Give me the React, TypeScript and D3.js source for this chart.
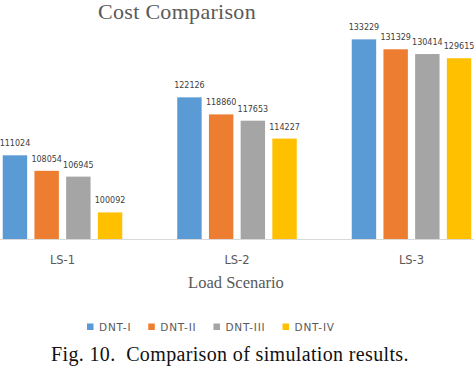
import { useEffect, useRef } from "react";
import * as d3 from "d3";

const scenarios = ["LS-1", "LS-2", "LS-3"];
const series = ["DNT-I", "DNT-II", "DNT-III", "DNT-IV"];
const colors = ["#5B9BD5", "#ED7D31", "#A5A5A5", "#FFC000"];
// cost per scenario, one array per DNT series
const dnt1 = [111024, 122126, 133229];
const dnt2 = [108054, 118860, 131329];
const dnt3 = [106945, 117653, 130414];
const dnt4 = [100092, 114227, 129615];
const values = [dnt1, dnt2, dnt3, dnt4];

export default function App() {
  const svgRef = useRef<SVGSVGElement | null>(null);

  useEffect(() => {
    const W = 474, H = 366;
    const svg = d3.select(svgRef.current).attr("width", W).attr("height", H);
    svg.selectAll("*").remove();

    const baseline = 239;
    const x0 = d3.scaleBand().domain(scenarios).range([-24.75, 498.75]).padding(0);
    const step = 31.7;
    const x1 = d3.scaleBand().domain(series).range([-2 * step, 2 * step]).paddingInner(0.23).paddingOuter(0.115);
    const y = d3.scaleLinear().domain([95000, 140000]).range([baseline, 4]);

    // title
    svg.append("text")
      .attr("x", 177).attr("y", 19)
      .attr("text-anchor", "middle")
      .style("font-family", "Liberation Serif, Times New Roman, serif")
      .style("font-size", "22px")
      .style("letter-spacing", "0.3px")
      .attr("fill", "#595959")
      .text("Cost Comparison");

    // axis line
    svg.append("line")
      .attr("x1", 0).attr("x2", W)
      .attr("y1", baseline + 0.5).attr("y2", baseline + 0.5)
      .attr("stroke", "#D9D9D9").attr("stroke-width", 1);

    const rows = scenarios.flatMap((s, i) => series.map((k, j) => ({ s, k, j, v: values[j][i] })));

    const g = svg.append("g");
    g.selectAll("rect").data(rows).join("rect")
      .attr("x", d => x0(d.s)! + x0.bandwidth() / 2 + x1(d.k)!)
      .attr("width", x1.bandwidth())
      .attr("y", d => y(d.v))
      .attr("height", d => baseline - y(d.v))
      .attr("fill", d => colors[d.j]);

    g.selectAll("text.val").data(rows).join("text")
      .attr("class", "val")
      .attr("x", d => x0(d.s)! + x0.bandwidth() / 2 + x1(d.k)! + x1.bandwidth() / 2)
      .attr("y", d => y(d.v) - 9)
      .attr("text-anchor", "middle")
      .style("font-family", "DejaVu Sans, sans-serif")
      .style("font-size", "8px")
      .attr("fill", "#404040")
      .text(d => d.v);

    // category labels
    svg.selectAll("text.cat").data(scenarios).join("text")
      .attr("class", "cat")
      .attr("x", d => x0(d)! + x0.bandwidth() / 2)
      .attr("y", 263.5)
      .attr("text-anchor", "middle")
      .style("font-family", "DejaVu Sans, sans-serif")
      .style("font-size", "11.5px")
      .attr("fill", "#595959")
      .text(d => d);

    svg.append("text")
      .attr("x", 236).attr("y", 288)
      .attr("text-anchor", "middle")
      .style("font-family", "Liberation Serif, Times New Roman, serif")
      .style("font-size", "16.5px")
      .attr("fill", "#595959")
      .text("Load Scenario");

    // legend
    const legend = svg.append("g");
    let lx = 87;
    series.forEach((s, i) => {
      legend.append("rect")
        .attr("x", lx).attr("y", 323.5)
        .attr("width", 6.5).attr("height", 6.5)
        .attr("fill", colors[i]);
      const t = legend.append("text")
        .attr("x", lx + 12).attr("y", 331)
        .style("font-family", "DejaVu Sans, sans-serif")
        .style("font-size", "10.5px")
        .style("letter-spacing", "0.8px")
        .attr("fill", "#595959")
        .text(s);
      const tw = (t.node() as SVGTextElement).getComputedTextLength();
      lx = lx + 12 + tw + 17;
    });

    // caption
    svg.append("text")
      .attr("x", 51).attr("y", 361)
      .style("font-family", "Liberation Serif, Times New Roman, serif")
      .style("font-size", "20px")
      .style("letter-spacing", "0.35px")
      .style("white-space", "pre")
      .attr("fill", "#111")
      .text("Fig. 10.  Comparison of simulation results.");
  }, []);

  return (
    <div style={{ position: "absolute", left: 0, top: 0, background: "#fff" }}>
      <svg ref={svgRef} style={{ display: "block" }}></svg>
    </div>
  );
}
